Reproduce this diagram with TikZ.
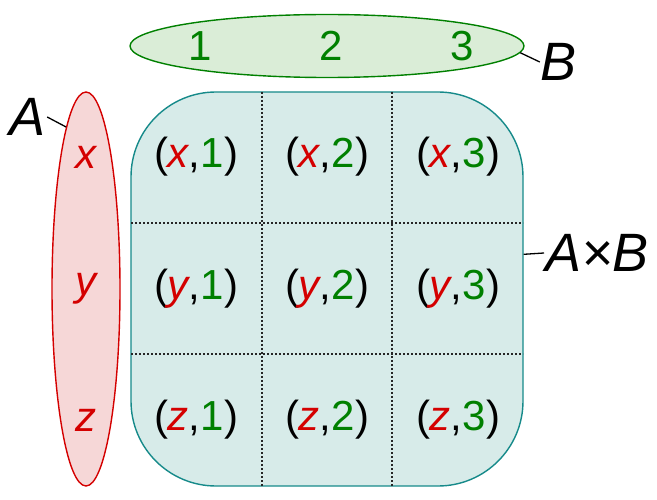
\documentclass[tikz,border=0pt]{standalone}
\usepackage{fontspec}
\setmainfont{Liberation Sans}
\usetikzlibrary{shapes.geometric,positioning}

\definecolor{setred}{HTML}{D40000}
\definecolor{setgreen}{HTML}{008000}
\definecolor{pinkfill}{HTML}{F6D7D7}
\definecolor{greenfill}{HTML}{DAEDD7}
\definecolor{tealline}{HTML}{168A8A}
\definecolor{tealfill}{HTML}{D7EBE9}

\newcommand{\elA}[1]{\textcolor{setred}{\itshape #1}}
\newcommand{\elB}[1]{\textcolor{setgreen}{#1}}
\newcommand{\cellpair}[2]{(\elA{#1},\elB{#2})}

\tikzset{
    setlabel/.style={font=\fontsize{54}{58}\selectfont, inner sep=1pt},
    element/.style={font=\fontsize{42}{46}\selectfont, inner sep=0pt},
    divider/.style={black!85, line width=1.1pt, dash pattern=on 2pt off 2pt},
    pointer/.style={black, line width=1.3pt}
}

\begin{document}
\begin{tikzpicture}[x=1pt, y=-1pt]
    \useasboundingbox (0,0) rectangle (657,500);

    \node[ellipse, draw=setgreen, fill=greenfill, line width=1.4pt, minimum width=394, minimum height=63, inner sep=0pt] (setB) at (327,46) {};
    \node[ellipse, draw=setred, fill=pinkfill, line width=1.4pt, minimum width=68, minimum height=394, inner sep=0pt] (setA) at (86,289) {};
    \node[rectangle, rounded corners=85pt, draw=tealline, fill=tealfill, line width=1.4pt, minimum width=392, minimum height=394, inner sep=0pt] (prod) at (327,289) {};

    \draw[divider] (262,92) -- (262,486);
    \draw[divider] (392,92) -- (392,486);
    \draw[divider] (131,223) -- (523,223);
    \draw[divider] (131,354) -- (523,354);

    \foreach \b/\xb in {1/200,2/331,3/462}
        \node[element] (b\b) at (\xb,46) {\elB{\b}};
    \foreach \a/\ya in {x/157,y/289,z/420}
        \node[element] (a\a) at (86,\ya) {\elA{\a}};

    \foreach \a/\ya in {x/157,y/289,z/420}
        \foreach \b/\xb in {1/196,2/327,3/458}
            \node[element] (p\a\b) at (\xb,\ya) {\cellpair{\a}{\b}};

    \node[setlabel] (labA) at (28,117) {\itshape A};
    \node[setlabel] (labB) at (559,62) {\itshape B};
    \node[setlabel] (labAB) at (597,253) {\itshape A×B};

    \draw[pointer] (labA.east) -- (setA.97);
    \draw[pointer] (labB.west) -- (setB.-2);
    \draw[pointer] (labAB.west) -- (prod.10);
\end{tikzpicture}
\end{document}
